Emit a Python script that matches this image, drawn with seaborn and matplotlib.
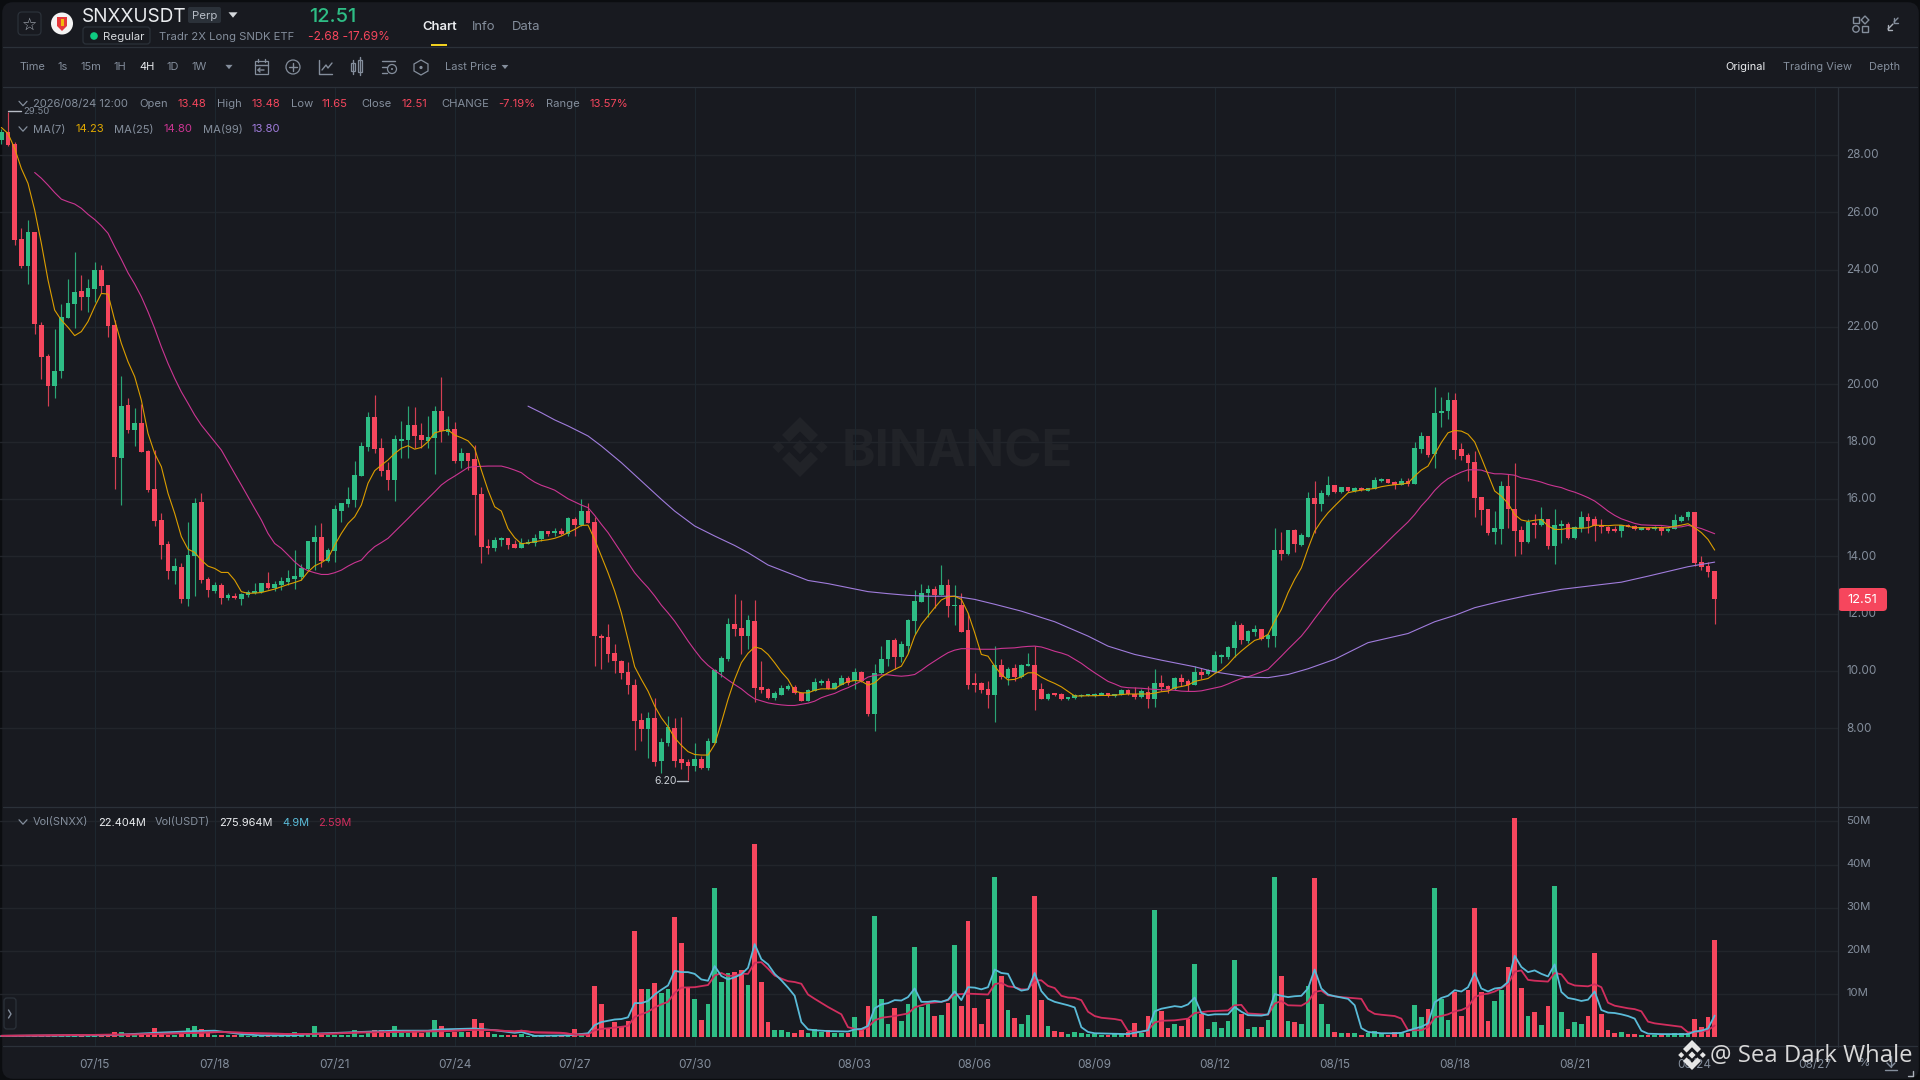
import numpy as np
import pandas as pd
import seaborn as sns
import matplotlib
matplotlib.use("Agg")
import matplotlib.pyplot as plt
from matplotlib.patches import FancyBboxPatch, Polygon, Circle, Rectangle
from matplotlib.transforms import ScaledTranslation

# ---------- DATA ----------
first_index = -14
opens = [
 28.52,28.81,28.38,25.06,24.13,25.31,22.08,20.98,19.95,20.46,
 22.32,22.80,23.24,23.05,23.32,24.00,23.45,22.07,17.44,19.27,
 18.41,18.64,17.69,16.35,15.27,14.43,13.50,13.64,12.51,14.02,
 15.88,13.20,12.80,13.00,12.55,12.63,12.52,12.67,12.71,12.77,
 13.06,12.88,13.00,13.10,13.20,13.27,13.56,14.50,14.68,13.85,
 14.20,15.60,15.81,15.96,16.81,17.82,18.85,17.77,17.01,16.67,
 18.03,18.06,18.58,18.23,18.03,18.12,19.07,18.35,18.46,17.33,
 17.59,17.38,16.17,14.37,14.29,14.56,14.65,14.42,14.30,14.44,
 14.47,14.62,14.87,14.80,14.88,14.77,15.31,15.08,15.60,15.21,
 11.24,11.19,10.62,10.36,9.97,9.53,8.28,7.99,8.37,6.86,
 7.50,8.03,6.92,6.82,6.69,6.95,6.63,7.50,9.98,10.43,
 11.63,11.49,11.23,11.76,9.45,9.36,9.06,9.18,9.37,9.46,
 9.24,8.97,9.32,9.58,9.66,9.38,9.51,9.77,9.65,9.97,
 9.65,8.49,9.92,10.43,11.10,10.49,10.89,11.74,12.42,12.71,
 12.87,12.67,13.00,12.27,12.32,11.42,9.59,9.57,9.39,9.18,
 10.22,9.77,10.09,9.79,10.17,10.22,9.38,9.03,9.22,9.20,
 9.01,9.05,9.13,9.14,9.14,9.17,9.23,9.12,9.17,9.33,
 9.20,9.10,9.28,9.01,9.58,9.48,9.38,9.76,9.64,9.52,
 9.95,9.89,9.97,10.50,10.50,10.79,11.59,11.05,11.37,11.45,
 11.13,11.24,14.21,14.07,14.93,14.38,14.69,16.05,15.81,16.15,
 16.48,16.26,16.41,16.27,16.40,16.28,16.35,16.63,16.70,16.59,
 16.50,16.62,16.52,17.76,18.20,17.56,18.99,19.06,19.44,17.73,
 17.52,17.28,16.06,15.64,14.84,14.97,16.45,15.66,14.92,14.49,
 15.17,15.10,15.29,14.36,15.06,15.13,14.64,14.99,15.39,15.29,
 15.08,15.02,14.94,14.89,15.09,15.06,14.92,15.00,14.94,15.02,
 14.87,14.95,15.23,15.36,15.55,13.82,13.65,13.48]
highs = [
 28.90,29.50,28.46,25.46,25.73,25.31,22.17,21.06,21.92,22.80,
 23.67,24.63,23.81,23.67,24.28,24.16,23.45,22.24,20.30,19.51,
 19.17,19.31,17.71,17.71,15.52,14.55,13.96,13.76,15.20,16.02,
 16.20,13.29,13.11,13.06,12.73,12.71,12.73,12.82,13.06,13.08,
 13.44,13.15,13.27,13.52,14.22,13.73,14.55,15.09,15.15,14.29,
 15.79,15.85,16.41,17.32,17.99,19.05,19.62,18.12,17.30,18.23,
 18.71,19.24,19.20,18.64,18.89,19.24,20.27,18.89,18.67,17.79,
 17.62,17.88,16.41,14.59,14.68,14.69,14.65,14.56,14.65,14.59,
 14.77,14.87,14.87,15.00,14.98,15.37,15.37,15.99,15.87,15.38,
 11.31,11.65,10.93,10.38,10.31,9.74,8.55,8.58,9.07,7.67,
 8.42,8.37,8.41,6.95,7.50,7.03,7.65,10.06,10.52,11.86,
 12.70,12.47,11.94,12.47,10.34,9.42,9.30,9.50,9.55,9.53,
 9.27,9.36,9.77,9.74,9.77,9.62,9.85,9.82,10.10,10.00,
 9.65,10.23,10.87,11.10,11.16,11.05,11.80,12.82,13.02,12.99,
 12.96,13.69,13.20,12.99,12.73,12.03,9.94,9.62,9.67,10.87,
 10.43,10.15,10.26,10.23,10.63,10.87,9.59,9.24,9.24,9.24,
 9.09,9.20,9.20,9.21,9.22,9.27,9.24,9.20,9.38,9.38,
 9.45,9.36,9.48,10.06,9.85,9.53,9.80,9.89,9.74,10.17,
 10.12,10.08,10.70,10.58,10.87,11.76,11.69,11.42,11.59,11.48,
 11.34,14.98,14.86,14.92,14.94,14.83,16.26,16.64,16.30,16.81,
 16.50,16.43,16.41,16.41,16.41,16.40,16.77,16.74,16.71,16.63,
 16.74,16.72,18.00,18.35,18.20,19.90,19.55,19.73,19.69,17.97,
 17.59,17.69,16.08,15.66,15.60,16.63,16.86,17.24,15.06,15.29,
 15.49,15.73,15.31,15.66,15.28,15.20,15.06,15.57,15.52,15.41,
 15.29,15.06,15.06,15.10,15.12,15.08,15.04,15.03,15.06,15.06,
 15.00,15.48,15.44,15.58,15.55,14.03,13.80,13.48]
lows = [
 28.40,28.30,24.86,24.05,23.50,21.74,20.19,19.25,19.51,20.23,
 22.32,21.95,22.59,22.52,22.88,23.17,21.65,16.35,15.79,18.31,
 17.86,17.63,16.25,15.07,13.92,13.21,13.03,12.39,12.28,12.62,
 13.06,12.59,12.71,12.34,12.48,12.50,12.31,12.59,12.69,12.74,
 12.86,12.80,12.82,13.00,12.85,13.17,13.52,13.52,13.64,13.81,
 13.81,15.21,15.73,15.73,16.81,17.69,17.59,16.80,16.31,15.94,
 17.42,17.42,17.77,17.77,17.77,16.87,17.98,18.23,17.24,17.07,
 17.01,14.74,13.78,14.10,14.19,14.36,14.24,14.28,14.29,14.42,
 14.36,14.55,14.71,14.71,14.74,14.71,14.71,15.06,15.15,10.17,
 10.08,10.31,9.92,9.71,9.21,7.26,7.56,6.97,6.69,6.44,
 7.38,6.65,6.57,6.20,6.51,6.59,6.55,7.48,9.80,10.34,
 11.22,10.60,10.78,8.92,9.22,9.03,8.99,9.17,9.34,9.19,
 8.95,8.96,9.30,9.52,9.36,9.36,9.50,9.53,9.36,9.62,
 8.43,7.91,9.89,10.17,10.06,10.31,10.64,11.31,12.41,11.87,
 12.20,12.65,11.90,11.60,11.36,9.36,9.27,9.23,8.72,8.22,
 9.73,9.51,9.67,9.77,10.17,8.64,9.01,8.98,9.14,8.98,
 9.00,9.03,9.09,9.12,9.11,9.15,9.08,9.08,9.15,9.15,
 9.02,9.06,8.72,8.74,9.32,9.24,9.34,9.48,9.32,9.50,
 9.74,9.87,9.94,10.29,10.41,10.50,10.93,10.99,11.22,11.08,
 10.84,10.85,13.87,14.05,14.16,14.36,14.67,14.80,15.60,16.09,
 16.20,16.22,16.24,16.23,16.29,16.27,16.34,16.58,16.55,16.34,
 16.49,16.45,16.51,17.59,17.48,17.08,18.52,18.78,17.38,17.36,
 16.62,15.36,15.08,14.73,14.42,14.44,15.00,14.01,14.10,14.48,
 14.64,15.06,14.24,13.73,14.46,14.62,14.62,14.86,14.80,14.52,
 14.83,14.83,14.85,14.66,15.01,14.91,14.91,14.92,14.93,14.74,
 14.85,14.94,15.21,15.27,13.66,13.52,13.28,11.65]
closes = [
 28.81,28.35,25.03,24.13,25.31,22.09,20.95,19.96,20.48,22.36,
 22.85,23.23,23.05,23.36,23.99,23.44,22.05,17.46,19.26,18.40,
 18.64,17.65,16.31,15.23,14.38,13.48,13.66,12.51,14.05,15.87,
 13.17,12.82,13.00,12.56,12.65,12.56,12.68,12.77,12.79,13.06,
 12.88,13.03,13.15,13.23,13.31,13.58,14.53,14.68,13.84,14.22,
 15.66,15.85,16.00,16.85,17.86,18.85,17.73,16.99,16.66,18.08,
 18.08,18.58,18.20,18.06,18.16,19.07,18.37,18.43,17.31,17.59,
 17.34,16.14,14.34,14.30,14.56,14.63,14.38,14.29,14.47,14.51,
 14.65,14.87,14.78,14.87,14.77,15.34,15.08,15.60,15.17,11.21,
 11.14,10.59,10.34,9.94,9.51,8.26,7.99,8.37,6.84,7.53,
 8.05,6.88,6.80,6.69,6.95,6.62,7.56,10.02,10.45,11.63,
 11.48,11.24,11.77,9.42,9.33,9.05,9.24,9.41,9.49,9.22,
 8.97,9.35,9.62,9.66,9.38,9.57,9.77,9.59,9.97,9.65,
 8.49,9.93,10.43,11.09,10.50,10.93,11.78,12.44,12.73,12.87,
 12.67,13.01,12.27,12.32,11.37,9.53,9.53,9.35,9.18,10.22,
 9.79,10.08,9.79,10.22,10.23,9.35,9.04,9.21,9.15,9.01,
 9.08,9.16,9.17,9.19,9.19,9.23,9.12,9.19,9.34,9.19,
 9.10,9.29,9.01,9.58,9.43,9.36,9.76,9.62,9.51,9.95,
 9.88,10.02,10.55,10.55,10.84,11.59,11.07,11.40,11.45,11.13,
 11.27,14.21,14.07,14.91,14.42,14.76,16.05,15.81,16.20,16.48,
 16.26,16.41,16.27,16.38,16.31,16.37,16.67,16.70,16.56,16.49,
 16.63,16.51,17.77,18.19,17.55,19.01,19.08,19.44,17.72,17.49,
 17.26,16.02,15.62,14.83,15.00,16.44,15.64,14.88,14.49,15.20,
 15.10,15.29,14.37,15.10,15.14,14.64,15.01,15.39,15.24,15.06,
 15.01,14.87,14.87,15.08,15.03,14.94,15.01,14.93,15.02,14.87,
 14.97,15.28,15.39,15.56,13.78,13.62,13.45,12.51]
volumes_m = [
 0.2,0.2,0.2,0.3,0.2,0.2,0.2,0.2,0.2,0.2,
 0.2,0.3,0.4,0.3,0.4,0.3,0.3,
 1.0,1.2,0.5,0.3,0.4,0.4,2.0,1.2,0.5,0.3,
 0.8,2.0,2.6,1.7,1.1,0.4,0.3,0.3,0.3,0.5,
 0.2,0.2,0.2,0.2,0.2,0.2,0.2,1.0,0.3,0.3,
 2.4,0.9,0.3,0.3,0.3,0.4,1.5,0.5,1.1,1.5,
 1.5,1.2,2.6,0.9,0.9,1.1,0.9,1.0,3.8,2.4,
 0.9,1.1,1.0,1.0,4.2,3.1,1.0,0.6,0.4,0.4,
 0.4,0.6,0.2,0.2,0.3,0.3,0.2,0.3,0.2,1.7,
 0.8,0.6,11.8,7.5,1.9,3.4,2.2,3.7,24.6,11.0,
 11.0,12.5,10.2,11.0,27.8,21.8,11.2,8.8,3.8,7.5,
 34.5,12.6,14.8,15.0,15.5,12.1,44.8,12.6,3.5,1.5,
 1.5,1.2,0.9,1.5,0.9,1.7,1.2,1.5,0.9,0.9,
 0.9,4.6,1.7,7.1,28.0,8.7,2.9,6.7,3.7,7.5,
 20.9,6.9,7.5,4.8,5.1,7.8,21.3,7.1,26.9,6.6,
 2.9,8.7,37.1,14.2,6.3,4.3,2.9,5.1,32.6,8.5,
 2.5,1.4,1.1,0.6,1.2,0.8,0.6,0.6,0.5,0.4,
 0.6,0.6,1.2,3.1,0.8,4.9,29.5,5.9,2.1,2.9,
 2.5,4.2,16.9,5.2,1.8,3.4,2.0,3.7,17.8,5.2,
 1.7,2.2,2.2,3.8,37.2,14.2,3.7,3.5,2.9,11.8,
 36.8,7.5,2.9,1.2,0.9,0.8,0.8,0.4,0.8,1.4,
 0.6,0.5,1.2,0.9,0.8,7.3,4.5,6.4,34.5,8.8,
 3.8,10.4,4.8,10.8,29.8,10.4,3.7,8.2,10.8,16.2,
 50.9,11.2,4.8,5.8,2.8,7.2,35.0,5.7,1.9,3.5,
 2.9,4.9,19.5,5.3,1.5,0.9,1.2,0.6,0.6,0.4,
 0.4,0.5,0.4,0.5,0.9,0.8,0.8,4.0,2.3,4.5,
 22.4]
ma7 = [
 28.96,28.75,28.23,27.53,27.01,26.08,24.92,23.64,22.59,22.24,
 21.99,21.70,21.84,22.19,22.71,23.17,23.15,22.24,21.43,20.79,
 20.27,19.45,18.29,17.59,17.13,16.20,15.50,14.69,14.25,14.14,
 13.87,13.66,13.58,13.44,13.44,13.17,12.77,12.71,12.72,12.74,
 12.80,12.86,12.94,13.02,13.09,13.17,13.46,13.67,13.78,13.93,
 14.39,14.80,15.15,15.38,15.79,16.55,16.99,17.18,17.36,17.59,
 17.77,17.86,17.74,17.80,18.00,18.31,18.37,18.41,18.23,18.14,
 18.03,17.77,17.01,16.31,15.73,15.58,14.97,14.65,14.44,14.47,
 14.51,14.55,14.58,14.63,14.71,14.83,14.94,15.08,15.09,14.59,
 14.01,13.43,12.79,12.03,11.10,10.15,9.71,9.30,8.78,8.37,
 8.06,7.67,7.41,7.19,7.09,7.07,7.07,7.44,8.20,9.01,
 9.71,10.29,10.62,10.84,10.78,10.58,10.29,9.97,9.71,9.30,
 9.24,9.24,9.33,9.38,9.38,9.38,9.53,9.63,9.67,9.65,
 9.51,9.59,9.80,9.94,10.06,10.17,10.58,11.22,11.63,11.92,
 12.21,12.48,12.59,12.61,12.50,12.03,11.34,10.58,10.52,10.17,
 9.88,9.69,9.71,9.80,9.94,9.94,9.79,9.67,9.57,9.45,
 9.29,9.13,9.13,9.14,9.14,9.15,9.15,9.16,9.18,9.20,
 9.20,9.20,9.20,9.23,9.28,9.30,9.42,9.46,9.51,9.64,
 9.69,9.74,9.91,10.03,10.23,10.49,10.70,10.89,11.07,11.14,
 11.28,11.74,12.15,12.73,13.20,13.60,14.27,14.88,15.23,15.52,
 15.76,15.99,16.22,16.27,16.31,16.34,16.37,16.43,16.47,16.50,
 16.52,16.56,16.80,17.01,17.15,17.56,17.97,18.31,18.39,18.37,
 18.26,17.99,17.44,16.86,16.28,16.10,15.85,15.46,15.27,15.22,
 15.26,15.29,15.06,14.94,14.94,14.98,14.98,14.98,15.00,15.09,
 15.08,15.07,15.09,15.09,15.05,15.00,15.00,15.00,15.00,15.00,
 15.00,15.05,15.09,15.14,15.00,14.83,14.59,14.22]
ma25_first_index = -9
ma25 = [
 27.39,27.19,26.95,26.69,26.46,26.37,26.29,26.14,25.93,25.75,
 25.53,25.27,24.80,24.36,23.89,23.50,23.06,22.53,21.95,21.31,
 20.73,20.21,19.74,19.34,18.93,18.58,18.29,18.00,17.71,17.30,
 16.89,16.49,16.08,15.67,15.27,14.80,14.45,14.28,14.05,13.81,
 13.62,13.50,13.43,13.37,13.37,13.43,13.52,13.66,13.78,13.87,
 14.13,14.34,14.48,14.63,14.86,15.09,15.32,15.56,15.79,16.02,
 16.25,16.49,16.66,16.80,16.95,17.10,17.13,17.14,17.15,17.15,
 17.15,17.09,17.01,16.92,16.74,16.59,16.48,16.40,16.31,16.16,
 16.01,15.90,15.79,15.70,15.43,15.12,14.83,14.48,14.13,13.78,
 13.43,13.16,12.91,12.62,12.30,12.03,11.74,11.40,11.05,10.73,
 10.43,10.20,10.02,9.86,9.69,9.53,9.38,9.19,9.03,8.96,
 8.89,8.85,8.82,8.80,8.80,8.84,8.88,8.95,9.07,9.15,
 9.22,9.33,9.42,9.53,9.65,9.79,9.85,9.87,9.87,9.84,
 9.82,9.84,9.88,10.03,10.20,10.35,10.50,10.64,10.73,10.78,
 10.78,10.77,10.76,10.76,10.76,
 10.79,10.80,10.81,10.84,10.86,10.87,10.84,10.77,10.69,10.63,
 10.55,10.41,10.27,10.10,9.94,9.79,9.64,9.55,9.45,9.42,
 9.41,9.40,9.38,9.36,9.35,9.34,9.33,9.30,9.29,9.29,
 9.31,9.36,9.41,9.46,9.55,9.65,9.74,9.80,9.88,9.97,
 10.06,10.29,10.52,10.76,10.99,11.22,11.51,11.83,12.13,12.44,
 12.73,12.96,13.19,13.41,13.64,13.86,14.08,14.30,14.53,14.76,
 14.98,15.20,15.46,15.76,16.01,16.30,16.53,16.71,16.83,16.94,
 17.02,17.02,17.01,16.93,16.88,
 16.88,16.86,16.83,16.74,16.70,16.65,16.59,16.51,16.45,16.40,
 16.31,16.24,16.15,16.05,15.93,15.76,15.58,15.43,15.31,15.23,
 15.15,15.10,15.09,15.08,15.08,15.05,15.02,15.03,15.08,15.03,
 14.97,14.88,14.79]
ma99_index = [65,67,69,71,74,76,79,82,85,87,90,93,96,98,101,104,107,110,113,116,119,122,125,129,132,135,
              136,139,144,149,152,156,160,165,168,173,176,179,182,186,191,197,201,204,207,211,215,220,225,229,233,239,243]
ma99 = [19.24,19.01,18.76,18.55,18.20,17.85,17.27,16.63,15.99,15.58,15.06,14.71,14.38,14.13,13.70,13.43,13.16,13.05,12.91,12.77,12.70,12.64,12.61,12.61,12.50,12.33,
        12.27,12.09,11.72,11.22,10.87,10.58,10.38,10.15,9.97,9.79,9.77,9.88,10.08,10.41,10.99,11.31,11.72,11.94,12.21,12.44,12.64,12.85,12.99,13.10,13.31,13.64,13.80]
vol_ma5_index = [-14,0,3,9,15,18,22,25,30,33,38,45,50,52,57,60,63,
 64,66,71,74,75,76,77,78,79,80,81,82,83,84,85,86,87,88,89,90,91,92,93,94,95,96,97,98,99,100,101,102,103,104,105,106,107,108,110,113,114,115,116,117,118,119,120,121,122,123,124,125,126,127,128,129,130,131,132,133,134,135,136,
 137,138,139,140,141,142,143,144,145,146,147,148,149,150,155,157,158,159,160,161,162,163,164,165,166,167,168,170,171,172,173,175,176,177,178,179,180,181,182,183,184,185,186,188,189,190,191,193,195,
 196,198,199,200,201,202,203,204,205,206,207,208,209,210,211,212,213,214,215,216,217,218,219,220,221,222,223,224,225,226,227,228,229,230,231,232,233,235,239,240,241,242,243]
vol_ma5 = [0.2,0.3,0.4,0.9,1.3,1.4,0.6,0.3,0.3,0.7,1.0,1.4,1.4,1.7,1.9,1.5,0.9,
 1.1,0.2,0.3,0.8,2.7,3.4,3.7,4.0,4.1,4.5,7.8,7.8,8.3,9.8,10.9,11.9,15.3,15.0,15.0,14.6,13.3,13.0,16.4,14.1,13.3,13.8,14.5,16.0,21.5,18.0,16.8,14.6,13.1,11.4,9.5,3.4,1.7,1.5,1.3,1.2,1.7,1.8,2.5,6.6,7.5,7.8,8.5,8.4,9.2,11.2,8.1,8.1,8.3,8.1,8.6,10.5,8.5,11.5,11.4,11.0,11.5,15.6,14.8,
 14.6,11.5,10.7,11.0,14.8,10.6,8.8,8.1,7.7,7.3,6.8,2.2,1.1,0.8,0.6,1.2,1.5,5.9,6.5,6.8,7.1,6.9,7.5,9.1,5.5,5.0,5.2,5.2,6.9,5.8,5.0,4.9,5.2,9.9,9.5,9.2,9.4,9.5,11.2,15.6,11.2,9.8,9.4,8.8,7.3,2.0,1.1,0.8,0.8,
 0.9,1.9,2.3,3.1,8.0,9.0,9.5,10.8,10.5,11.5,14.8,11.2,10.5,11.2,11.4,12.7,18.8,16.2,15.0,15.4,14.6,14.0,16.8,10.4,9.0,8.7,8.3,8.6,10.5,6.2,5.6,5.5,5.2,4.8,4.2,1.4,0.7,0.6,0.6,1.2,1.4,1.9,4.9]
vol_ma10_index = [-14,5,10,15,19,24,30,35,40,48,52,57,60,63,
 64,66,70,72,74,75,76,78,80,81,82,83,84,85,86,87,88,90,92,93,94,95,96,97,98,99,100,101,102,103,104,105,106,107,108,110,112,113,115,116,117,118,120,122,123,124,125,127,128,129,131,134,135,136,
 137,138,139,140,141,142,143,144,145,146,147,148,149,150,151,153,154,155,157,158,159,160,162,164,165,166,167,170,171,172,173,176,177,178,179,181,182,183,184,185,187,190,191,192,193,195,
 196,197,199,200,201,202,203,204,205,206,207,208,209,210,211,212,213,214,215,216,218,219,220,221,222,224,225,226,227,228,230,231,232,233,234,236,238,239,241,242,243]
vol_ma10 = [0.2,0.5,0.7,0.9,1.1,0.8,0.6,0.7,1.0,1.2,1.3,1.6,1.5,1.2,
 1.4,1.0,0.9,0.5,0.5,1.5,1.8,2.1,2.5,4.6,5.2,5.8,6.8,7.5,8.1,10.2,11.4,11.5,12.0,14.2,14.8,14.1,14.2,14.6,14.6,17.2,17.3,15.8,14.2,13.5,12.9,12.7,12.3,9.8,8.8,6.9,5.2,2.2,1.5,2.2,3.8,4.4,4.8,5.4,6.8,7.3,7.8,8.1,8.5,9.8,10.0,9.8,12.2,12.5,
 11.7,11.5,11.0,11.0,13.1,13.1,11.8,11.3,9.5,9.1,9.0,8.5,5.8,4.8,4.4,4.1,3.8,1.3,1.1,1.5,3.3,3.7,3.8,4.2,5.5,5.7,5.9,6.1,7.3,7.4,5.4,5.1,7.7,8.3,7.3,7.2,8.1,10.4,10.7,9.6,9.2,8.8,6.2,5.3,5.1,4.8,
 4.2,1.5,1.5,2.2,4.5,4.8,5.2,5.9,6.2,6.9,9.2,9.8,10.0,10.5,11.3,12.3,15.1,15.4,13.2,13.0,12.8,14.8,14.5,12.5,11.9,11.7,12.2,11.5,7.9,7.2,6.6,6.4,5.9,3.5,3.1,2.7,2.3,1.0,1.2,1.5,2.6]
price_ticks = [8,10,12,14,16,18,20,22,24,26,28]
volume_ticks = [10,20,30,40,50]
date_index = [0,18,36,54,72,90,114,132,150,168,186,204,222,240,258]
date_labels = ["07/15","07/18","07/21","07/24","07/27","07/30","08/03","08/06","08/09","08/12","08/15","08/18","08/21","08/24","08/27"]

# ---------- STYLE ----------
BG, OUTER = "#181A20", "#0B0D10"
GREEN, RED = "#2EBD85", "#F6465D"
GREY, LINE = "#848E9C", "#2B3139"
HGRID, VGRID = "#22252B", "#1D272F"
GOLD, PINK, PURPLE = "#DC9E00", "#CB3592", "#A07CDC"
VBLUE, VRED = "#5ABBD8", "#D12E5E"
sns.set_theme(style="dark", rc={"axes.grid": False})
plt.rcParams["font.family"] = ["Inter", "Noto Sans", "DejaVu Sans"]

W, H = 1920, 1080
fig = plt.figure(figsize=(W / 100, H / 100), dpi=100, facecolor=OUTER)

def add_axes(x0, y0, x1, y1, **kw):
    return fig.add_axes([x0 / W, 1 - y1 / H, (x1 - x0) / W, (y1 - y0) / H], **kw)

bottom = add_axes(0, 0, W, H)
bottom.set_xlim(0, W); bottom.set_ylim(H, 0); bottom.axis("off")
bottom.add_patch(FancyBboxPatch((5, 5), W - 9, H - 9, boxstyle="round,pad=0,rounding_size=8",
                                fc=BG, ec=BG, lw=4))

def bnb_logo(ax, cx, cy, s, color, z=1):
    def diamond(dx, dy, r):
        ax.add_patch(Polygon([(cx + dx, cy + dy - r), (cx + dx + r, cy + dy),
                              (cx + dx, cy + dy + r), (cx + dx - r, cy + dy)], fc=color, ec="none", zorder=z))
    diamond(0, 0, .24 * s); diamond(-.72 * s, 0, .2 * s); diamond(.72 * s, 0, .2 * s)
    for sg in (-1, 1):
        ax.add_patch(Polygon([(cx, cy + sg * s), (cx + .6 * s, cy + sg * .4 * s), (cx + .36 * s, cy + sg * .16 * s),
                              (cx, cy + sg * .52 * s), (cx - .36 * s, cy + sg * .16 * s), (cx - .6 * s, cy + sg * .4 * s)],
                             fc=color, ec="none", zorder=z))

bnb_logo(bottom, 800, 447, 30, "#212328")
bottom.text(842, 453, "BINANCE", color="#212328", fontsize=36.5, fontweight="bold", va="center", ha="left")

# ---------- PANES ----------
PX0, PX1 = 0, 1838
PY0, PY1, VY1 = 87, 807, 1046
xlim = ((PX0 - 94.67) / 6.6667, (PX1 - 94.67) / 6.6667)

price = add_axes(PX0, PY0, PX1, PY1); price.patch.set_alpha(0)
vol = add_axes(PX0, PY1, PX1, VY1); vol.patch.set_alpha(0)

index = np.arange(first_index, first_index + len(closes))
df = pd.DataFrame({"i": index, "open": opens, "high": highs, "low": lows, "close": closes, "vol": volumes_m})
df["up"] = df["close"] >= df["open"]

for flag, col in ((True, GREEN), (False, RED)):
    d = df[df["up"] == flag]
    price.vlines(d["i"], d["low"], d["high"], color=col, lw=0.85, alpha=.85, zorder=3)
    lo = d[["open", "close"]].min(axis=1)
    hi = d[["open", "close"]].max(axis=1)
    price.bar(d["i"], np.maximum(hi - lo, 0.05), bottom=lo, width=0.7, color=col, linewidth=0, zorder=4)

sns.lineplot(x=index, y=ma7, color=GOLD, lw=0.8, ax=price, zorder=6, errorbar=None)
sns.lineplot(x=np.arange(ma25_first_index, ma25_first_index + len(ma25)), y=ma25, color=PINK, lw=0.8, ax=price, zorder=5, errorbar=None)
sns.lineplot(x=ma99_index, y=ma99, color=PURPLE, lw=0.8, ax=price, zorder=5, errorbar=None)

price.set_xlim(*xlim)
price.set_ylim(28 - (PY1 - 155) / 28.67, 28 + (155 - PY0) / 28.67)
price.set_yticks(price_ticks)
price.set_yticklabels([f"{t:.2f}" for t in price_ticks])
price.yaxis.tick_right()
price.set_xticks(date_index); price.set_xticklabels([])
price.tick_params(axis="y", length=0, pad=6, labelsize=8.4, labelcolor=GREY)
price.tick_params(axis="x", length=0)
price.set_xlabel(""); price.set_ylabel("")

sns.barplot(data=df, x="i", y="vol", hue="up", palette={True: GREEN, False: RED}, native_scale=True,
            dodge=False, width=0.7, legend=False, ax=vol, zorder=3, linewidth=0, saturation=1)
sns.lineplot(x=vol_ma10_index, y=vol_ma10, color=VRED, lw=1.3, ax=vol, zorder=5, errorbar=None)
sns.lineplot(x=vol_ma5_index, y=vol_ma5, color=VBLUE, lw=1.3, ax=vol, zorder=6, errorbar=None)
# on the quiet left part of the pane the red average lies over the blue one
early_x = [x for x in vol_ma10_index if x <= 74]
sns.lineplot(x=early_x, y=vol_ma10[:len(early_x)], color=VRED, lw=1.3, ax=vol, zorder=7, errorbar=None)
vol.set_xlim(*xlim)
vol.set_ylim(-(VY1 - 1036.7) / 4.305, (1036.7 - PY1) / 4.305)
vol.set_yticks(volume_ticks)
vol.set_yticklabels([f"{t}M" for t in volume_ticks])
vol.yaxis.tick_right()
vol.set_xticks(date_index)
vol.set_xticklabels(date_labels)
vol.tick_params(axis="x", length=0, pad=9.3, labelsize=8.5, labelcolor=GREY)
vol.tick_params(axis="y", length=0, pad=6, labelsize=8.2, labelcolor=GREY)
vol.set_xlabel(""); vol.set_ylabel("")

for ax, ticks in ((price, price_ticks), (vol, volume_ticks)):
    for t in ticks:
        ax.axhline(t, color=HGRID, lw=1.0, zorder=1)
    for d in date_index:
        ax.axvline(d, color=VGRID, lw=0.8, zorder=1)
    for sp in ax.spines.values():
        sp.set_visible(False)
    for lab in ax.get_yticklabels():
        lab.set_transform(lab.get_transform() + ScaledTranslation(0, 1.2 / 100, fig.dpi_scale_trans))

# ---------- OVERLAY ----------
top = add_axes(0, 0, W, H); top.patch.set_alpha(0)
top.set_xlim(0, W); top.set_ylim(H, 0); top.axis("off")

def T(x, y, s, c=GREY, px=11.5, ha="left", **kw):
    top.text(x, y + 1, s, color=c, fontsize=px * 0.72, ha=ha, va="center", **kw)

def L(xs, ys, c=GREY, lw=1.0):
    top.plot(xs, ys, color=c, lw=lw, solid_capstyle="round", solid_joinstyle="round")

def chevron(x, y, s=4, c=GREY):
    L([x - s, x, x + s], [y - s * .55, y + s * .55, y - s * .55], c, .9)

def tri(x, y, s=4, c=GREY):
    top.add_patch(Polygon([(x - s, y - s * .6), (x + s, y - s * .6), (x, y + s * .6)], fc=c, ec="none"))

for yy in (46.5, 86.5, 807, 1046):
    L([3, 1917], [yy, yy], LINE, .9)
L([1838, 1838], [87, 1047], LINE, .9)

# star and logo
top.add_patch(FancyBboxPatch((18, 12), 23, 23, boxstyle="round,pad=0,rounding_size=4", fc="none", ec=LINE, lw=.9))
T(29.5, 23.5, "\u2606", "#AAB0B9", 17, ha="center", family="DejaVu Sans")
top.add_patch(Circle((62, 23.5), 11, fc="#F4F4F4", ec="none"))
top.add_patch(Polygon([(57, 17), (67, 17), (67, 26), (62, 31), (57, 26)], fc="#E5383B", ec="none"))
top.add_patch(Rectangle((60.5, 19), 3, 7, fc="#F0B90B", ec="none"))

T(82, 16, "SNXXUSDT", "#EAECEF", 19)
top.add_patch(FancyBboxPatch((188, 7), 33, 16, boxstyle="round,pad=0,rounding_size=2", fc=LINE, ec="none"))
T(204.5, 15, "Perp", "#B7BDC6", 11.5, ha="center")
tri(233, 15, 4.5, "#D5D8DC")
T(309, 16.5, "12.51", GREEN, 20, fontweight="medium")
top.add_patch(FancyBboxPatch((83, 27), 67, 17, boxstyle="round,pad=0,rounding_size=3", fc="none", ec=LINE, lw=.9))
top.add_patch(Circle((94, 36), 3.8, fc="#0ECB81", ec="none"))
T(103, 35.5, "Regular", "#D5D8DC", 11.5)
T(159, 35.5, "Tradr 2X Long SNDK ETF", GREY, 11.3)
T(308, 35.5, "-2.68 -17.69%", RED, 12)
T(422, 26, "Chart", "#EAECEF", 13, fontweight="semibold")
T(472, 26, "Info", GREY, 13)
T(512, 26, "Data", GREY, 13)
top.add_patch(Rectangle((431, 43.5), 16, 2.5, fc="#F0D020", ec="none"))

for x, s, c in ((20, "Time", GREY), (57, "1s", GREY), (80, "15m", GREY), (113, "1H", GREY), (139, "4H", "#EAECEF"),
                (166, "1D", GREY), (191, "1W", GREY), (445, "Last Price", GREY)):
    T(x, 66.5, s, c, 11)
tri(229, 67, 3.6); tri(505, 67, 3.4)

# toolbar icons
top.add_patch(Rectangle((255, 61), 13, 13, fc="none", ec=GREY, lw=.9)); L([255, 268], [65, 65]); L([258, 258], [58.5, 62]); L([265, 265], [58.5, 62])
L([264, 258, 260], [70, 70, 68]); L([258, 260], [70, 72])
top.add_patch(Circle((293, 67), 7, fc="none", ec=GREY, lw=.9)); L([289, 297], [67, 67]); L([293, 293], [63, 71])
L([319, 319, 332], [60, 74, 74]); L([322, 326, 328, 332], [70, 65, 68, 63])
for x0, y0, h0 in ((353, 63, 8), (360, 60, 12)):
    top.add_patch(Rectangle((x0 - 2, y0), 4, h0, fc="none", ec=GREY, lw=.9)); L([x0, x0], [y0 - 3, y0 + h0 + 3])
L([382, 395], [61, 61]); L([382, 387], [67, 67]); L([382, 387], [73, 73])
top.add_patch(Circle((392, 69), 4.5, fc="none", ec=GREY, lw=.9)); top.add_patch(Circle((392, 69), 1, fc=GREY, ec="none"))
top.add_patch(Polygon([(421, 60), (428, 64), (428, 71), (421, 75), (414, 71), (414, 64)], fc="none", ec=GREY, lw=.9)); top.add_patch(Circle((421, 67.5), 1.6, fc=GREY, ec="none"))

# top right
T(1725, 66.5, "Original", "#EAECEF", 11)
T(1783, 66.5, "Trading View", GREY, 11)
T(1869, 66.5, "Depth", GREY, 11)
top.add_patch(Rectangle((1853, 17), 6, 6, fc="none", ec=GREY, lw=1)); top.add_patch(Rectangle((1862, 26), 6, 6, fc="none", ec=GREY, lw=1))
top.add_patch(Circle((1856, 29), 3.2, fc="none", ec=GREY, lw=1))
top.add_patch(Polygon([(1865, 16), (1868.8, 20), (1865, 24), (1861.2, 20)], fc="none", ec=GREY, lw=1))
L([1888, 1893], [29, 24], "#AAB0B9"); L([1888, 1888, 1892], [25, 30, 30], "#AAB0B9")
L([1898, 1894], [18, 22], GREY); L([1894, 1894, 1898], [18, 23, 23], GREY)

# OHLC info row
chevron(23, 103.5)
for x, s, c in ((33, "2026/08/24 12:00", GREY), (139, "Open", GREY), (177, "13.48", RED), (217, "High", GREY), (251, "13.48", RED),
                (291, "Low", GREY), (322, "11.65", RED), (361, "Close", GREY), (401, "12.51", RED), (441, "CHANGE", GREY),
                (498, "-7.19%", RED), (546, "Range", GREY), (589, "13.57%", RED)):
    T(x, 103, s, c, 11.2)
chevron(23, 129)
for x, s, c in ((33, "MA(7)", GREY), (75, "14.23", "#E0A800"), (114, "MA(25)", GREY), (163, "14.80", PINK), (203, "MA(99)", GREY), (251, "13.80", PURPLE)):
    T(x, 128.5, s, c, 11.2)
chevron(23, 822)
for x, s, c in ((33, "Vol(SNXX)", GREY), (98, "22.404M", "#EAECEF"), (155, "Vol(USDT)", GREY), (219, "275.964M", "#EAECEF"), (282, "4.9M", VBLUE), (318, "2.59M", VRED)):
    T(x, 821.5, s, c, 11)

# extreme price labels
T(23, 110, "29.50", GREY, 9.5); L([8, 21], [111, 111], "#B7BDC6")
T(654, 780, "6.20", "#C8CDD3", 10.5); L([677, 688], [781, 781], "#B7BDC6")

# last price tag
top.add_patch(FancyBboxPatch((1838, 588), 49, 23, boxstyle="round,pad=0,rounding_size=4", fc=RED, ec="none"))
T(1862.5, 599, "12.51", "#FFFFFF", 13, ha="center")

# side handle and corner controls
top.add_patch(FancyBboxPatch((4, 998), 12, 31, boxstyle="round,pad=0,rounding_size=3", fc=BG, ec=LINE, lw=.9))
L([8.5, 11, 8.5], [1010, 1014, 1018])
T(1864, 1062, "%", GREY, 11.5, ha="center")
L([1891, 1891], [1056, 1067]); L([1887, 1891, 1895], [1063, 1067, 1063]); L([1885, 1897], [1070, 1070])
L([1908, 1913, 1913], [1076, 1076, 1071], "#AAB0B9")

# user watermark
bnb_logo(top, 1692, 1055, 15, "#E6E6E6", z=8)
top.text(1710, 1056, "@ Sea Dark Whale", color="#D8D8D8", fontsize=17.2, ha="left", va="center", family="Open Sans", zorder=8)

fig.savefig("out.png", dpi=100, facecolor=OUTER)
